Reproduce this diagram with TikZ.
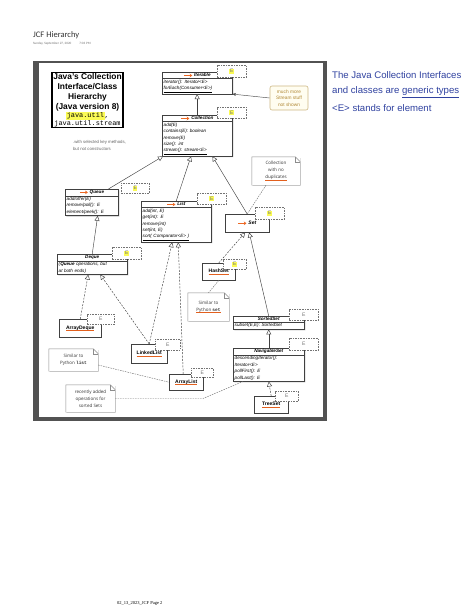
\documentclass[tikz,border=0pt]{standalone}
\usepackage{fontspec}
\setmainfont{Liberation Sans}
\setmonofont{Liberation Mono}
\newfontfamily\pagefont{Carlito}
\newfontfamily\notefont{Open Sans}
\newfontfamily\footfont{Liberation Serif}
\usepackage{xcolor}
\usetikzlibrary{arrows.meta,shapes.multipart,shadows}

\definecolor{framegray}{RGB}{82,82,82}
\definecolor{hlyellow}{RGB}{250,250,85}
\definecolor{arrorange}{RGB}{236,104,36}
\definecolor{ulorange}{RGB}{226,96,30}
\definecolor{streamtext}{RGB}{176,136,52}
\definecolor{streamedge}{RGB}{204,184,132}
\definecolor{streamfill}{RGB}{255,253,240}
\definecolor{inkblue}{RGB}{48,66,160}

\newsavebox\ulbox
\newcommand\orul[1]{\sbox\ulbox{#1}\rlap{\textcolor{ulorange}{\rule[-1.5pt]{\wd\ulbox}{0.7pt}}}\usebox\ulbox}
\newcommand\hlbox[1]{{\setlength{\fboxsep}{0.6pt}\colorbox{hlyellow}{#1}}}
\newcommand\hlE{\hlbox{E}}
\newcommand\hdrarrow{\tikz[baseline=-0.55ex]\draw[arrorange,line width=0.9pt,-{Stealth[length=2.6pt,width=3.6pt]}] (0,0) -- (8pt,0);\hspace{1.5pt}}
\newcommand\hdr[2]{\noindent\makebox[#1][c]{#2}}
\newcommand\notefold[1]{%
  \draw[black!45] (#1.north west) -- ([xshift=-5pt]#1.north east) -- ([yshift=-5pt]#1.north east)
    -- (#1.south east) -- (#1.south west) -- cycle;
  \draw[black!45] ([xshift=-5pt]#1.north east) |- ([yshift=-5pt]#1.north east);}

\tikzset{
  umlclass/.style={rectangle split, rectangle split parts=2, draw=black!75, fill=white,
    text width=#1, inner xsep=1.5pt, inner ysep=1.1pt, align=left,
    font=\fontsize{4.6}{6.4}\selectfont\itshape,
    drop shadow={shadow xshift=1.1pt, shadow yshift=-1.1pt, fill=black!45}, anchor=north west},
  umlleaf/.style={draw=black!75, fill=white, inner sep=1pt, font=\fontsize{5}{6}\selectfont\bfseries,
    drop shadow={shadow xshift=1.1pt, shadow yshift=-1.1pt, fill=black!45}, anchor=north west},
  tparam/.style 2 args={draw=black!55, dash pattern=on 1.6pt off 1pt, fill=white,
    minimum width=#1, minimum height=#2, inner sep=0pt, anchor=north west,
    text=black!55, font=\fontsize{5}{6}\selectfont},
  titlebox/.style={draw=black, line width=1.1pt, fill=white, align=center,
    font=\bfseries\fontsize{8.4}{10}\selectfont, inner xsep=1pt, inner ysep=1pt, minimum width=71},
  notebox/.style={fill=white, inner sep=1.5pt, align=center, font=\notefont\fontsize{4.5}{7}\selectfont,
    text=black!80, drop shadow={shadow xshift=0.8pt, shadow yshift=-0.8pt, fill=black!20}},
  streambox/.style={draw=streamedge, fill=streamfill, rounded corners=2pt, line width=0.6pt,
    align=center, font=\fontsize{4.8}{6.5}\selectfont, text=streamtext,
    minimum width=38, minimum height=24, inner sep=1pt},
  extendsarrow/.style={draw=black!75, -{Triangle[length=5pt, width=5pt, fill=white]}},
  implarrow/.style={extendsarrow, dash pattern=on 2pt off 1.3pt},
  notelink/.style={draw=black!55, dash pattern=on 1.5pt off 1pt},
  streamlink/.style={draw=black!70, -{Stealth[length=3.5pt, width=3pt]}},
  handnote/.style={anchor=west, inner sep=0pt, text=inkblue, font=\fontsize{9.6}{10}\selectfont},
}

\begin{document}
\begin{tikzpicture}[x=1pt, y=-1pt, line width=0.45pt]
  \useasboundingbox (0,0) rectangle (474,611);
  \fill[white] (0,0) rectangle (474,611);

  % page heading
  \node[anchor=base west, inner sep=0, text=black!80, font=\pagefont\fontsize{8.5}{10}\selectfont]
    (pagetitle) at (33,37) {JCF Hierarchy};
  \node[anchor=base west, inner sep=0, text=black!55, font=\pagefont\fontsize{3.3}{4}\selectfont]
    (pagedate) at (33,44.5) {Sunday, September 27, 2020\hspace{8pt}7:03 PM};

  % screenshot frame
  \fill[framegray] (33,61) rectangle (327,421);
  \fill[white] (39,63) rectangle (323,417);

  % title box
  \node[titlebox] (jcftitle) at (87.5,100)
    {Java's Collection\\Interface/Class\\Hierarchy\\(Java version 8)\\[-1.5pt]
     {\mdseries\ttfamily\fontsize{6.9}{7.5}\selectfont\hlbox{java.util},}\\[-2.5pt]
     {\mdseries\ttfamily\fontsize{6.9}{7.5}\selectfont java.util.stream}};
  \node[align=left, inner sep=0, text=black!60, font=\fontsize{4.3}{6.5}\selectfont]
    (keynote) at (99.5,145.5) {.with selected key methods,\\but not constructors};

  % interfaces
  \node[umlclass=67pt] (iterable) at (162,72)
    {\hdr{67pt}{\hdrarrow\textbf{Iterable}}
     \nodepart{two}iterator(): Iterator<E>\\\underline{forEach(Consumer<E>)}};
  \node[umlclass=67pt] (collection) at (162,115)
    {\hdr{67pt}{\hdrarrow\textbf{Collection}}
     \nodepart{two}add(E)\\contains(E): boolean\\remove(E)\\size(): int\\\underline{stream(): stream<E>}};
  \node[umlclass=50pt] (queue) at (65,189)
    {\hdr{50pt}{\hdrarrow\textbf{Queue}}
     \nodepart{two}add/offer(E)\\remove/poll(): E\\element/peek(): E};
  \node[umlclass=67pt] (list) at (141,201)
    {\hdr{67pt}{\hdrarrow\textbf{List}}
     \nodepart{two}add(int, E)\\get(int): E\\remove(int)\\set(int, E)\\\underline{sort( Comparator<E> )}};
  \node[umlleaf, minimum width=44, minimum height=18] (set) at (225,214)
    {\hdrarrow\textit{Set}};
  \node[umlclass=67pt] (deque) at (57,254)
    {\hdr{67pt}{\textbf{Deque}}
     \nodepart{two}(\textbf{Queue} operations, but\\at both ends)};
  \node[umlclass=68pt] (sortedset) at (233,316)
    {\hdr{68pt}{\textbf{SortedSet}}
     \nodepart{two}subset(E,E): SortedSet};
  \node[umlclass=68pt] (navigableset) at (233,348)
    {\hdr{68pt}{\textbf{NavigableSet}}
     \nodepart{two}descendingIterator():\\Iterator<E>\\pollFirst(): E\\pollLast(): E};

  % classes
  \node[umlleaf, minimum width=42, minimum height=18] (arraydeque) at (59,319) {\orul{ArrayDeque}};
  \node[umlleaf, minimum width=36, minimum height=19] (linkedlist) at (131,344) {\orul{LinkedList}};
  \node[umlleaf, minimum width=34, minimum height=16] (arraylist) at (169,374) {\orul{ArrayList}};
  \node[umlleaf, minimum width=33, minimum height=17] (hashset) at (202,263) {\orul{HashSet}};
  \node[umlleaf, minimum width=34, minimum height=17] (treeset) at (254,396) {\orul{TreeSet}};

  % type parameters
  \node[tparam={29}{12}] (iterableE) at (217,65) {\hlE};
  \node[tparam={29}{11}] (collectionE) at (217,107) {\hlE};
  \node[tparam={28}{10}] (queueE) at (121,183) {\hlE};
  \node[tparam={29}{11}] (listE) at (197,193) {\hlE};
  \node[tparam={29}{12}] (setE) at (255,207) {\hlE};
  \node[tparam={29}{12}] (dequeE) at (112,247) {\hlE};
  \node[tparam={23}{10}] (hashsetE) at (223,259) {\hlE};
  \node[tparam={27}{10}] (arraydequeE) at (87,314) {E};
  \node[tparam={25}{11}] (linkedlistE) at (155,339) {E};
  \node[tparam={22}{9}] (arraylistE) at (191,368) {E};
  \node[tparam={29}{11}] (sortedsetE) at (289,309) {E};
  \node[tparam={29}{12}] (navigablesetE) at (289,338) {E};
  \node[tparam={23}{10}] (treesetE) at (275,391) {E};

  % notes
  \node[streambox] (streamnote) at (289,98) {much more\\Stream stuff\\not shown};
  \node[notebox, minimum width=48, minimum height=28] (dupnote) at (276,171)
    {Collection\\with no\\\orul{duplicates}};
  \notefold{dupnote}
  \node[notebox, minimum width=41, minimum height=28] (pysetnote) at (208.5,307)
    {Similar to\\\orul{Python {\ttfamily\bfseries set}}};
  \notefold{pysetnote}
  \node[notebox, minimum width=49, minimum height=22] (pylistnote) at (73.5,360)
    {Similar to\\Python {\ttfamily\bfseries list}};
  \notefold{pylistnote}
  \node[notebox, minimum width=49, minimum height=27] (recentnote) at (90.5,398.5)
    {recently added\\operations for\\sorted Sets};
  \notefold{recentnote}
  \coordinate (recentbend) at (203,398.5);

  % extends
  \draw[extendsarrow] (collection.north) -- (iterable.south);
  \draw[extendsarrow] ([xshift=-10pt]queue.north east) -- ([xshift=1pt]collection.south west);
  \draw[extendsarrow] (list.north) -- ([xshift=29pt]collection.south west);
  \draw[extendsarrow] (set.north) -- ([xshift=-20pt]collection.south east);
  \draw[extendsarrow] (deque.north) -- ([xshift=6pt]queue.south);
  \draw[extendsarrow] (sortedset.north) -- ([xshift=2pt]set.south);
  \draw[extendsarrow] (navigableset.north) -- (sortedset.south);

  % implements
  \draw[implarrow] (arraydeque.north) -- ([xshift=-4pt]deque.south);
  \draw[implarrow] (linkedlist.north) -- ([xshift=8pt]deque.south);
  \draw[implarrow] (linkedlist.north) -- ([xshift=-4pt]list.south);
  \draw[implarrow] ([xshift=-3pt]arraylist.north) -- ([xshift=2pt]list.south);
  \draw[implarrow] (hashset.north) -- ([xshift=-2pt]set.south);
  \draw[implarrow] (treeset.north) -- (navigableset.south);

  % note links
  \draw[streamlink] (streamnote.west) -- (iterable.south east);
  \draw[notelink] ([xshift=-10pt]dupnote.south) -- (set.north);
  \draw[notelink] (hashset.south) -- (pysetnote.north);
  \draw[notelink] ([yshift=-5pt]pylistnote.east) -- (arraylist.west);
  \draw[notelink] (recentnote.east) -- (recentbend) -- ([xshift=10pt]navigableset.south west);

  % handwritten remarks
  \node[handnote] (handone) at (332,75) {The Java Collection Interfaces};
  \node[handnote] (handtwo) at (332,92) {and classes are \underline{generic types}};
  \node[handnote] (handthree) at (332,108) {<E> stands for element};

  % page footer
  \node[anchor=base west, inner sep=0, font=\footfont\fontsize{4.5}{5}\selectfont]
    (pagefoot) at (117,604.5) {02\_13\_2023\_JCF Page 2};
\end{tikzpicture}
\end{document}
